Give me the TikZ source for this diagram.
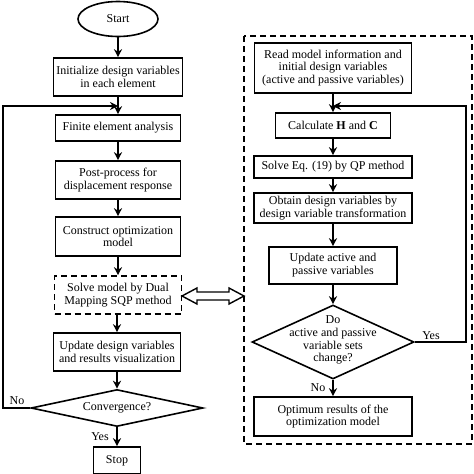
\documentclass[tikz,border=0pt]{standalone}
\usepackage{fontspec}
\setmainfont{Liberation Serif}
\usetikzlibrary{shapes.geometric,arrows.meta}
\begin{document}
\begin{tikzpicture}[x=1pt,y=-1pt,
  txt/.style={font=\fontsize{12}{12.8}\selectfont,align=center,inner sep=0pt},
  box/.style={txt,draw,line width=1.6pt},
  dbox/.style={box,dash pattern=on 6pt off 4pt},
  dia/.style={draw,diamond,line width=1.6pt,inner sep=0pt},
  arr/.style={-{Stealth[length=8pt,width=8pt]},line width=1.6pt},
  ln/.style={line width=1.6pt}]
\useasboundingbox (0,0) rectangle (474,474);
% left column
\node[box,ellipse,minimum width=80pt,minimum height=35pt] (start) at (118,19) {Start};
\node[box,minimum width=129pt,minimum height=38pt] (init) at (118,77) {Initialize design variables\\in each element};
\node[box,minimum width=125pt,minimum height=26pt] (fea) at (118,128) {Finite element analysis};
\node[box,minimum width=125pt,minimum height=38pt] (post) at (118,180) {Post-process for\\displacement response};
\node[box,minimum width=125pt,minimum height=39pt] (cons) at (118,236.5) {Construct optimization\\model};
\node[dbox,minimum width=127pt,minimum height=38pt] (solve) at (118,295) {Solve model by Dual\\Mapping SQP method};
\node[box,minimum width=127pt,minimum height=38pt] (upd) at (117,352) {Update design variables\\and results visualization};
\node[dia,minimum width=172pt,minimum height=37pt] (conv) at (117,408) {};
\node[txt] (convt) at (conv.center) {Convergence?};
\node[box,minimum width=47pt,minimum height=27pt] (stop) at (117,460.5) {Stop};
\coordinate (lj) at (118,106);
\coordinate (lc1) at (3,408);
\coordinate (lc2) at (3,106);
\draw[arr] (start) -- (init);
\draw[arr] (init) -- (fea);
\draw[arr] (fea) -- (post);
\draw[arr] (post) -- (cons);
\draw[arr] (cons) -- (solve);
\draw[arr] (solve.south -| upd.north) -- (upd);
\draw[arr] (upd) -- (conv);
\draw[arr] (conv) -- (stop);
\draw[arr] (conv.west) -- (lc1) -- (lc2) -- (lj);
\node[txt] (lno) at (17,401) {No};
\node[txt] (lyes) at (100,437) {Yes};
% right dashed frame
\draw[ln,dash pattern=on 6pt off 4pt] (244,36) rectangle (472,444);
\node[box,minimum width=157pt,minimum height=50pt] (read) at (333,68) {Read model information and\\initial design variables\\(active and passive variables)};
\node[box,minimum width=115pt,minimum height=25pt] (calc) at (333,125.5) {Calculate \textbf{H} and \textbf{C}};
\node[box,minimum width=158pt,minimum height=22pt] (qp) at (333,167) {Solve Eq. (19) by QP method};
\node[box,minimum width=158pt,minimum height=30pt] (obt) at (333,208) {Obtain design variables by\\design variable transformation};
\node[box,minimum width=128pt,minimum height=37pt] (uap) at (333,265.5) {Update active and\\passive variables};
\node[dia,minimum width=162pt,minimum height=74pt] (chg) at (333,342) {};
\node[txt] (chgt) at (333,340) {Do\\active and passive\\variable sets\\change?};
\node[box,minimum width=158pt,minimum height=39pt] (opt) at (333,416.5) {Optimum results of the\\optimization model};
\coordinate (rj) at (333,106);
\coordinate (rc1) at (466,342);
\coordinate (rc2) at (466,106);
\draw[arr] (read) -- (calc);
\draw[arr] (calc) -- (qp);
\draw[arr] (qp) -- (obt);
\draw[arr] (obt) -- (uap);
\draw[arr] (uap) -- (chg);
\draw[arr] (chg) -- (opt);
\draw[arr] (chg.east) -- (rc1) -- (rc2) -- (rj);
\node[txt] (ryes) at (431,336) {Yes};
\node[txt] (rno) at (318,388) {No};
% hollow double arrow
\draw[line width=1.4pt] (182,296) -- (197,288) -- (197,292) -- (229,292) -- (229,288) -- (244,296)
  -- (229,304) -- (229,300) -- (197,300) -- (197,304) -- cycle;
\end{tikzpicture}
\end{document}
